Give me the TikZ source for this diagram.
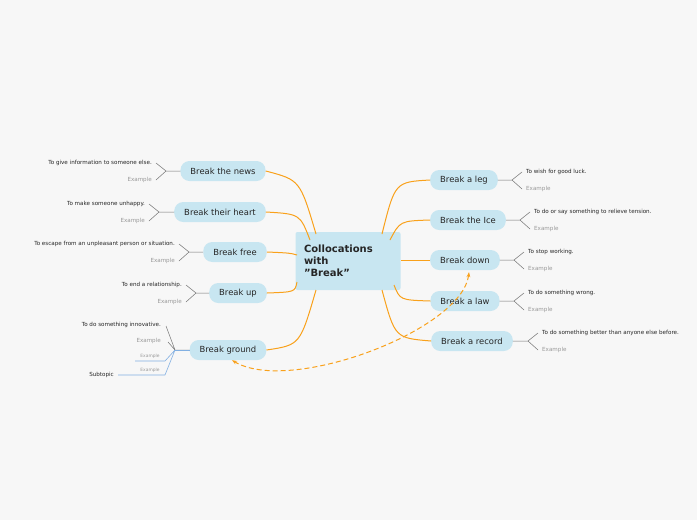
\documentclass[tikz,border=0pt]{standalone}
\usepackage{fontspec}
\setmainfont{DejaVu Sans}
\usetikzlibrary{arrows.meta}
\begin{document}
\begin{tikzpicture}[x=1pt,y=-1pt,
 topic/.style={fill=c1,rounded corners=9pt,minimum height=20pt,inner xsep=10pt,font=\fontsize{8.4}{9}\selectfont,text=black!85},
 br/.style={draw=or1,line width=1pt},
 lf/.style={font=\fontsize{5.6}{6}\selectfont,text=black!85},
 ex/.style={font=\fontsize{5.6}{6}\selectfont,text=black!40},
 fk/.style={draw=black!55,line width=0.5pt},
 bl/.style={draw=cyan!60!blue!50,line width=0.6pt}]
\definecolor{c1}{HTML}{C8E6F1}
\definecolor{or1}{HTML}{F9A11B}
\useasboundingbox[fill=black!3] (0,0) rectangle (697,520);
\node[fill=c1,rounded corners=2pt,minimum width=105pt,minimum height=58pt,align=left,text width=88pt,font=\bfseries\fontsize{10}{12}\selectfont,text=black!85] (c) at (348,261) {Collocations\\with\\\symbol{34}Break\symbol{34}};
% left
\node[topic] (n1) at (223,171) {Break the news};
\node[topic] (n2) at (220,212) {Break their heart};
\node[topic] (n3) at (235,252) {Break free};
\node[topic] (n4) at (238,293) {Break up};
\node[topic] (n5) at (228,350) {Break ground};
% right
\node[topic] (r1) at (464,180) {Break a leg};
\node[topic] (r2) at (468,220) {Break the Ice};
\node[topic] (r3) at (465,260) {Break down};
\node[topic] (r4) at (465,301) {Break a law};
\node[topic] (r5) at (472,341) {Break a record};
% branches
\coordinate (a1) at (316,234);\coordinate (a2) at (310,240);\coordinate (a3) at (297,255);\coordinate (a4) at (297,282);\coordinate (a5) at (316,290);
\draw[br] (a1) .. controls (300,180) .. (n1.east);
\draw[br] (a2) .. controls (300,214) .. (n2.east);
\draw[br] (a3) .. controls (290,253) .. (n3.east);
\draw[br] (a4) .. controls (295,292) .. (n4.east);
\draw[br] (a5) .. controls (300,345) .. (n5.east);
\coordinate (b1) at (382,234);\coordinate (b2) at (390,240);\coordinate (b3) at (401,260);\coordinate (b4) at (394,285);\coordinate (b5) at (382,290);
\draw[br] (b1) .. controls (395,182) .. (r1.west);
\draw[br] (b2) .. controls (400,221) .. (r2.west);
\draw[br] (b3) -- (r3.west);
\draw[br] (b4) .. controls (400,300) .. (r4.west);
\draw[br] (b5) .. controls (395,338) .. (r5.west);
% left leaves
\foreach \n/\y/\t/\xa in {n1/171/To give information to someone else./166, n2/212/To make someone unhappy./159, n3/252/To escape from an unpleasant person or situation./189, n4/293/To end a relationship./196}{
 \coordinate (f\n) at (\xa,\y);
 \coordinate (u\n) at ({\xa-10},{\y-8});
 \coordinate (d\n) at ({\xa-10},{\y+9});
 \draw[fk] (\n.west) -- (f\n) -- (u\n) (f\n) -- (d\n);
 \node[lf,anchor=east,inner sep=1pt] at ([xshift=-3pt]u\n) {\t};
 \node[ex,anchor=east,inner sep=1pt] at ([xshift=-3pt]d\n) {Example};
}
% ground
\coordinate (g) at (175,350);
\coordinate (g1) at (166,326);\coordinate (g2) at (168,342);
\coordinate (g3) at (165,361);\coordinate (g3e) at (135,361);
\coordinate (g4) at (165,375);\coordinate (g4e) at (118,375);
\draw[fk] (n5.west) -- (g) -- (g1) (g) -- (g2);
\draw[bl] (n5.west) -- (g);
\draw[bl] (g) -- (g3) -- (g3e) (g) -- (g4) -- (g4e);
\node[lf,anchor=east,inner sep=1pt] at (162,325) {To do something innovative.};
\node[ex,anchor=east,inner sep=1pt] at (162,341) {Example};
\node[ex,anchor=south,inner sep=1pt,font=\fontsize{4.4}{5}\selectfont] at (150,360) {Example};
\node[ex,anchor=south,inner sep=1pt,font=\fontsize{4.4}{5}\selectfont] at (150,374) {Example};
\node[lf,anchor=east,inner sep=1pt] (st) at (115,375) {Subtopic};
% right leaves
\foreach \n/\y/\t/\xa in {r1/180/To wish for good luck./512, r2/220/To do or say something to relieve tension./520, r3/260/To stop working./514, r4/301/To do something wrong./514, r5/341/To do something better than anyone else before./528}{
 \coordinate (f\n) at (\xa,\y);
 \coordinate (u\n) at ({\xa+10},{\y-8});
 \coordinate (d\n) at ({\xa+10},{\y+9});
 \draw[fk] (\n.east) -- (f\n) -- (u\n) (f\n) -- (d\n);
 \node[lf,anchor=west,inner sep=1pt] at ([xshift=3pt]u\n) {\t};
 \node[ex,anchor=west,inner sep=1pt] at ([xshift=3pt]d\n) {Example};
}
% dashed relation
\draw[or1,line width=1pt,dash pattern=on 5pt off 3pt,{Stealth[length=5pt]}-{Stealth[length=5pt]}] (r3.south) ++(4,2) .. controls (462,330) and (290,395) .. ([xshift=4pt]n5.south);
\end{tikzpicture}
\end{document}
